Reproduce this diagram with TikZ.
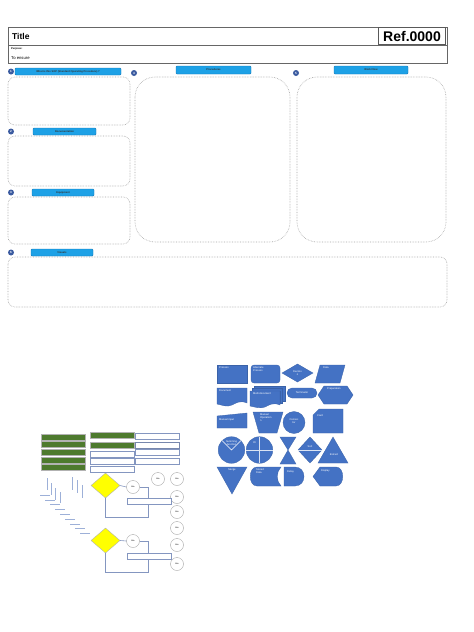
\documentclass[tikz,border=0pt]{standalone}
\usepackage{fontspec}
\setmainfont{Liberation Sans}
\usetikzlibrary{shapes.geometric,calc}
\definecolor{lblue}{HTML}{1DA1E6}
\definecolor{lblueb}{HTML}{1478B8}
\definecolor{shp}{HTML}{4472C4}
\definecolor{shpb}{HTML}{3A62A8}
\definecolor{grn}{HTML}{4E7A2E}
\definecolor{barb}{HTML}{8496C0}
\definecolor{stick}{HTML}{9DB0D8}
\definecolor{ylw}{HTML}{FFFF00}
\definecolor{numc}{HTML}{3B5BA0}
\newcommand\ftiny{\fontsize{2.6}{3}\selectfont}
\begin{document}
\begin{tikzpicture}[x=1pt,y=-1pt,
  lab/.style={fill=lblue,draw=lblueb,line width=0.4pt,rounded corners=1,inner sep=0,font=\ftiny\bfseries,text=black!80},
  panel/.style={draw=gray!70,densely dotted,line width=0.6pt},
  numdot/.style={circle,fill=numc,minimum size=6,inner sep=0,text=white,font=\fontsize{3}{3}\selectfont\bfseries},
  bshape/.style={fill=shp,draw=shpb,line width=0.3pt},
  slab/.style={font=\ftiny,text=white,inner sep=0,anchor=north west,align=left},
  gbar/.style={fill=grn,draw=gray!60,line width=0.4pt,minimum width=44,minimum height=6,inner sep=0},
  wbar/.style={fill=white,draw=barb,line width=0.5pt,minimum width=44,minimum height=6,inner sep=0},
  conn/.style={draw=barb,line width=0.6pt},
  ydia/.style={diamond,fill=ylw,draw=gray!60,line width=0.4pt,minimum width=29,minimum height=25,inner sep=0},
  scirc/.style={circle,draw=gray!70,fill=white,line width=0.4pt,minimum size=13,inner sep=0,font=\fontsize{2}{2}\selectfont}
]
\useasboundingbox[fill=white] (0,0) rectangle (474,632);

% header
\draw[gray!80!black,line width=0.7pt] (8,27) rectangle (447,63);
\draw[gray!80!black,line width=0.7pt] (8,45) -- (447,45);
\node[anchor=west,inner sep=0,font=\fontsize{8.5}{9}\selectfont\bfseries] (title) at (12,36) {Title};
\node[draw=gray!70!black,line width=1.2pt,fill=white,minimum width=67,minimum height=17,inner sep=0,font=\fontsize{14}{14}\selectfont\bfseries] (ref) at (412,36.3) {Ref.0000};
\node[anchor=west,inner sep=0,font=\fontsize{2.6}{3}\selectfont\bfseries] (purp) at (11,49) {Purpose:};
\node[anchor=west,inner sep=0,font=\fontsize{4.2}{5}\selectfont] (ens) at (11,58.5) {To ensure};

% panels
\draw[panel,rounded corners=7] (8,77) rectangle (130,125);
\draw[panel,rounded corners=7] (8,136) rectangle (130,186);
\draw[panel,rounded corners=7] (8,197) rectangle (130,244);
\draw[panel,rounded corners=20] (135,77) rectangle (290,242);
\draw[panel,rounded corners=20] (297,77) rectangle (446,242);
\draw[panel,rounded corners=7] (8,257) rectangle (447,307);

% labels
\node[lab,minimum width=106,minimum height=7] (l1) at (68,71.5) {What is this SOP (Standard Operating Procedure) ?};
\node[lab,minimum width=75,minimum height=8] (l2) at (213.5,70) {Procedures};
\node[lab,minimum width=74,minimum height=8] (l3) at (371,70) {Work Flow};
\node[lab,minimum width=63,minimum height=7] (l4) at (64.5,131.5) {Documentation};
\node[lab,minimum width=62,minimum height=7] (l5) at (63,192.5) {Equipment};
\node[lab,minimum width=62,minimum height=7] (l6) at (62,252.5) {Visuals};

% numbered dots
\node[numdot] (n1) at (11,71.5) {1};
\node[numdot] (n4) at (134,73) {4};
\node[numdot] (n5) at (296,73) {5};
\node[numdot] (n2) at (11,131.5) {2};
\node[numdot] (n3) at (11,192.5) {3};
\node[numdot] (n6) at (11,252.5) {6};

% ===== blue flowchart shapes =====
% row 1
\draw[bshape] (217,365) rectangle (247,383);
\node[slab] (s1) at (219,366.5) {Process};
\draw[bshape,rounded corners=3] (251,365) rectangle (280,383);
\node[slab] (s2) at (253,366.5) {Alternate\\Process};
\draw[bshape] (282,373) -- (297.5,364) -- (313,373) -- (297.5,382) -- cycle;
\node[font=\ftiny,text=white,inner sep=0,align=center] (s3) at (297.5,373) {Decisio\\n};
\draw[bshape] (320,365) -- (345,365) -- (340,383) -- (315,383) -- cycle;
\node[slab] (s4) at (323,366.5) {Data};
% row 2
\draw[bshape] (217,388) -- (247,388) -- (247,403) .. controls (240,400) and (236,403) .. (232,405) .. controls (227,407.5) and (222,405) .. (217,404) -- cycle;
\node[slab] (s5) at (219,389.5) {Document};
\draw[bshape] (254,386) -- (285,386) -- (285,401) .. controls (283,400.5) .. (282,401) -- (282,388.5) -- (254,388.5) -- cycle;
\draw[bshape] (252,388.5) -- (282,388.5) -- (282,403.5) .. controls (281,403) .. (280,403.5) -- (280,391) -- (252,391) -- cycle;
\draw[bshape] (250,391) -- (280,391) -- (280,405) .. controls (273,402) and (269,405) .. (265,407) .. controls (260,409) and (255,407) .. (250,406) -- cycle;
\node[slab] (s6) at (253,392.5) {Multi document};
\draw[bshape,rounded corners=5] (287,388) rectangle (317,398);
\node[font=\ftiny,text=white,inner sep=0] (s7) at (302,393) {Terminator};
\draw[bshape] (318,395) -- (324,386) -- (347,386) -- (353,395) -- (347,404) -- (324,404) -- cycle;
\node[slab] (s8) at (327,387.5) {Preparation};
% row 3
\draw[bshape] (217,416) -- (247,413) -- (247,428) -- (217,428) -- cycle;
\node[slab] (s9) at (219,418.5) {Manual input};
\draw[bshape] (253,412) -- (283,412) -- (277,433) -- (259,433) -- cycle;
\node[font=\ftiny,text=white,inner sep=0,align=left,anchor=north west] (s10) at (260,413.5) {Manual\\Operation\\n};
\draw[bshape] (294,422.5) circle (11);
\node[font=\ftiny,text=white,inner sep=0,align=center] (s11) at (294,421) {Connec\\tor};
\draw[bshape] (319,409) -- (343,409) -- (343,433) -- (313,433) -- (313,415) -- cycle;
\node[slab] (s12) at (317,414) {Card};
% row 4
\draw[bshape] (231.5,450) circle (13.3);
\draw[white,line width=0.4pt] ($(231.5,450)+(-135:13.3)$) -- (231.5,450) -- ($(231.5,450)+(-45:13.3)$);
\node[font=\ftiny,text=white,inner sep=0,align=center] (s13) at (231.5,443) {Summing\\Junction};
\draw[bshape] (259.5,450) circle (13.3);
\draw[white!80!shp,line width=0.4pt] (246.2,450) -- (272.8,450) (259.5,436.7) -- (259.5,463.3);
\node[slab] (s14) at (253,441) {Or};
\draw[bshape] (280,437) -- (296,437) -- (288,450) -- cycle;
\draw[bshape] (288,450) -- (296,464) -- (280,464) -- cycle;
\draw[bshape] (310,437) -- (322,450) -- (310,463) -- (298,450) -- cycle;
\draw[white!80!shp,line width=0.4pt] (298,450) -- (322,450);
\node[font=\ftiny,text=white,inner sep=0] (s15) at (310,446.5) {Sort};
\draw[bshape] (333,437) -- (348,463) -- (318,463) -- cycle;
\node[font=\ftiny,text=white,inner sep=0] (s16) at (334,455) {Extract};
% row 5
\draw[bshape] (217,467) -- (247,467) -- (232,494) -- cycle;
\node[font=\ftiny,text=white,inner sep=0] (s17) at (232,470) {Merge};
\draw[bshape] (257,467) -- (281,467) .. controls (276,472) and (276,481) .. (281,486) -- (257,486) .. controls (248,486) and (248,467) .. (257,467) -- cycle;
\node[slab] (s18) at (256,468.5) {Stored\\Data};
\draw[bshape] (284,467) -- (295,467) .. controls (307,467) and (307,486) .. (295,486) -- (284,486) -- cycle;
\node[slab] (s19) at (287,470) {Delay};
\draw[bshape] (320,467) -- (336,467) .. controls (345,467) and (345,486) .. (336,486) -- (320,486) -- (313,476.5) -- cycle;
\node[slab] (s20) at (321,469.5) {Display};

% ===== green/yellow flowchart =====
\node[gbar] (g1) at (63.5,437) {};
\node[gbar] (g2) at (63.5,444.5) {};
\node[gbar] (g3) at (63.5,452) {};
\node[gbar] (g4) at (63,460) {};
\node[gbar] (g5) at (63,467.5) {};
\node[gbar] (g6) at (112,435.5) {};
\node[gbar] (g7) at (112,445.5) {};
\node[wbar] (m1) at (112,454) {};
\node[wbar] (m2) at (112,461.5) {};
\node[wbar] (m3) at (112,469) {};
\node[wbar] (r1) at (157,436.5) {};
\node[wbar,draw=barb!90!black] (r2) at (157,445) {};
\node[wbar] (r3) at (157,452.5) {};
\node[wbar] (r4) at (157,461) {};

% stick lines
\foreach \x/\a/\b in {47/478/490,51/483/495,55/488/500,60/492/503,72/477/490,77/480/493,82/485/498}
  \draw[stick,line width=0.6pt] (\x,\a) -- (\x,\b);
\foreach \i in {0,...,8}
  \draw[stick,line width=0.6pt] (40+5*\i,495+4.8*\i) -- (50+5*\i,495+4.8*\i);

% decisions
\node[ydia] (d1) at (105.5,485.5) {};
\node[ydia] (d2) at (105.5,540.5) {};
\node[scirc] (c1) at (133,487) {Min};
\node[scirc] (c2) at (133,541) {Min};
\node[scirc] (c3) at (158,479) {Min};
\node[scirc] (c4) at (177,479) {Min};
\node[scirc] (c5) at (177,497) {Min};
\node[scirc] (c6) at (177,512) {Min};
\node[scirc] (c7) at (177,528) {Min};
\node[scirc] (c8) at (177,545) {Min};
\node[scirc] (c9) at (177,564) {Min};
\coordinate (k1) at (148,517);
\coordinate (k2) at (148,572);
\draw[conn] (d1.east) -- (c1.west);
\draw[conn] (d1.south) |- (k1) |- (c1.east);
\draw[conn] (d2.east) -- (c2.west);
\draw[conn] (d2.south) |- (k2) |- (c2.east);
\node[wbar,minimum width=44] (b1) at (149,501.5) {};
\node[wbar,minimum width=44] (b2) at (149,556) {};
\end{tikzpicture}
\end{document}
